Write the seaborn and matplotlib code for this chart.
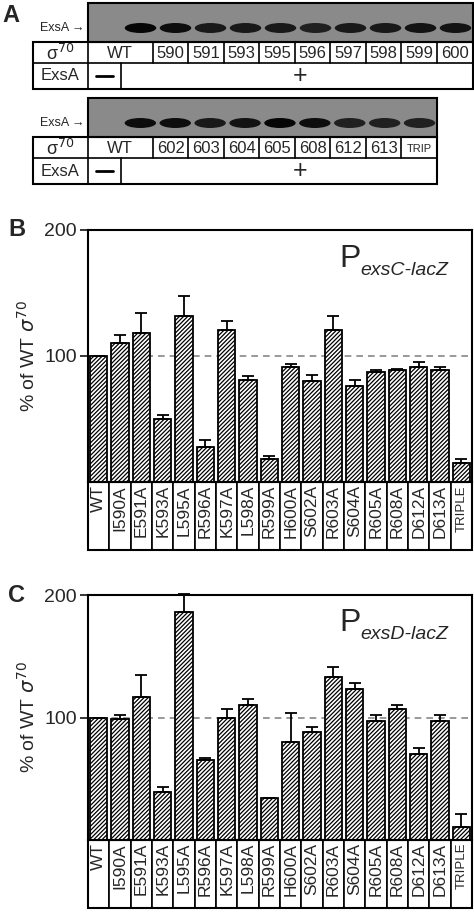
import numpy as np
import pandas as pd
import matplotlib
matplotlib.use("Agg")
import matplotlib.pyplot as plt
from matplotlib.patches import Rectangle, Ellipse
import seaborn as sns

sns.set_theme(style="white")
plt.rcParams['font.family'] = ['Liberation Sans', 'DejaVu Sans']
plt.rcParams['hatch.linewidth'] = 0.9

mutants = ["WT", "I590A", "E591A", "K593A", "L595A", "R596A", "K597A", "L598A", "R599A",
           "H600A", "S602A", "R603A", "S604A", "R605A", "R608A", "D612A", "D613A", "TRIPLE"]
exsC_vals = [100, 110, 118, 50, 132, 28, 121, 81, 18, 91, 80, 121, 76, 87, 89, 91, 89, 15]
exsC_err = [0, 7, 16, 3, 16, 5, 7, 3, 3, 3, 5, 11, 5, 2, 1, 4, 2, 3]
exsD_vals = [100, 99, 117, 39, 186, 65, 100, 110, 34, 80, 88, 133, 123, 97, 107, 70, 97, 11]
exsD_err = [0, 3, 18, 4, 15, 2, 7, 5, 0.5, 24, 4, 8, 5, 5, 3, 5, 5, 10]

blot1_labels = ["590", "591", "593", "595", "596", "597", "598", "599", "600"]
blot2_labels = ["602", "603", "604", "605", "608", "612", "613", "TRIP"]
blot1_bands = [0, 0.95, 0.9, 0.8, 0.8, 0.8, 0.75, 0.8, 0.8, 0.85, 0.85]
blot2_bands = [0, 0.9, 0.9, 0.8, 0.85, 0.95, 0.9, 0.75, 0.75, 0.75]

W, H = 474, 913
fig = plt.figure(figsize=(W / 100, H / 100), dpi=100)
fig.patch.set_facecolor("white")


def px_axes(x0, y0, x1, y1):
    return fig.add_axes([x0 / W, 1 - y1 / H, (x1 - x0) / W, (y1 - y0) / H])


# ---------------- Panel A ----------------
axA = px_axes(0, 0, W, 200)
axA.set_xlim(0, W)
axA.set_ylim(200, 0)
axA.axis("off")
axA.text(2, 16, "A", fontsize=17, fontweight="bold", va="center")


def blot(y0, x1, bands, labels):
    yb = y0 + 39
    axA.add_patch(Rectangle((88, y0), x1 - 88, 39, facecolor="#8a8a8a", edgecolor="black", lw=1.5))
    n = len(bands)
    lw_ = (x1 - 88) / n
    for i, b in enumerate(bands):
        if b > 0:
            g = 1 - b
            axA.add_patch(Ellipse((88 + lw_ * (i + 0.5), y0 + 25), lw_ * 0.9, 10,
                                  facecolor=(g * 0.5, g * 0.5, g * 0.5), edgecolor="none"))
    axA.text(85, y0 + 25, "ExsA \u2192", fontsize=9, ha="right", va="center")
    r1, r2 = yb + 21, yb + 47
    axA.add_patch(Rectangle((33, yb), x1 - 33, r2 - yb, facecolor="none", edgecolor="black", lw=1.5, zorder=3))
    axA.plot([33, x1], [r1, r1], color="black", lw=1.2)
    axA.plot([88, 88], [yb, r2], color="black", lw=1.2)
    axA.plot([153, 153], [yb, r1], color="black", lw=1.2)
    axA.plot([121, 121], [r1, r2], color="black", lw=1.2)
    cw = 35.5
    for i, lab in enumerate(labels):
        xc = 153 + cw * (i + 0.5)
        if i > 0:
            axA.plot([153 + cw * i] * 2, [yb, r1], color="black", lw=1.2)
        axA.text(xc, (yb + r1) / 2 + 1, lab, fontsize=8 if lab == "TRIP" else 12, ha="center", va="center")
    axA.text(60, (yb + r1) / 2 + 1, "\u03c3$^{70}$", fontsize=13, ha="center", va="center")
    axA.text(120, (yb + r1) / 2 + 1, "WT", fontsize=12, ha="center", va="center")
    axA.text(60, (r1 + r2) / 2, "ExsA", fontsize=12, ha="center", va="center")
    axA.plot([96, 113], [(r1 + r2) / 2] * 2, color="black", lw=2)
    axA.text(300, (r1 + r2) / 2, "+", fontsize=18, ha="center", va="center")


blot(3, 473, blot1_bands, blot1_labels)
blot(98, 437, blot2_bands, blot2_labels)


# ---------------- Panels B & C ----------------
def bar_panel(y_top, y_bot, vals, errs, letter, sub):
    ax = px_axes(88, y_top, 472, y_bot)
    df = pd.DataFrame({"mut": mutants, "val": vals})
    ax.axhline(100, color="#888888", ls=(0, (4, 3)), lw=1.2, zorder=0)
    sns.barplot(data=df, x="mut", y="val", ax=ax, color="white", edgecolor="black",
                linewidth=1.3, hatch="////////", width=0.8, zorder=2)
    for p in ax.patches:
        p.set_facecolor("white")
    x = np.arange(len(mutants))
    eb = ax.errorbar(x, vals, yerr=[np.zeros(len(errs)), errs], fmt="none", ecolor="black",
                     elinewidth=1.3, capsize=4, capthick=1.3, zorder=3)
    for art in eb.lines[1] + eb.lines[2]:
        art.set_clip_on(False)
    ax.set_xlim(-0.5, len(mutants) - 0.5)
    ax.set_ylim(0, 200)
    ax.set_yticks([100, 200])
    ax.set_yticklabels(["100", "200"], fontsize=14)
    ax.tick_params(axis="y", direction="out", length=6, width=1.3, left=True, pad=2)
    ax.set_xticks([])
    ax.set_xlabel("")
    ax.set_ylabel(r"% of WT $\sigma^{70}$", fontsize=14, labelpad=4)
    for s in ax.spines.values():
        s.set_visible(True)
        s.set_color("black")
        s.set_linewidth(1.5)
    ax.text(-80 / 384, 1.0, letter, transform=ax.transAxes, fontsize=17, fontweight="bold",
            va="center", ha="left")
    ax.text(0.655, 0.855, "P", transform=ax.transAxes, fontsize=23, ha="left", va="baseline")
    ax.text(0.71, 0.82, sub, transform=ax.transAxes, fontsize=14, style="italic",
            ha="left", va="baseline")
    # label table below
    hfrac = 68 / (y_bot - y_top)
    tr = ax.get_xaxis_transform()
    for i, m in enumerate(mutants):
        ax.add_patch(Rectangle((i - 0.5, -hfrac), 1, hfrac, transform=tr, facecolor="white",
                               edgecolor="black", lw=1.2, clip_on=False))
        ax.text(i, -0.012, m, transform=tr, rotation=90, ha="center", va="top",
                fontsize=9.5 if m == "TRIPLE" else 12.5, clip_on=False)
    ax.add_patch(Rectangle((-0.5, -hfrac), len(mutants), hfrac, transform=tr, facecolor="none",
                           edgecolor="black", lw=1.5, clip_on=False))
    return ax


bar_panel(230, 482, exsC_vals, exsC_err, "B", "exsC-lacZ")
bar_panel(595, 840, exsD_vals, exsD_err, "C", "exsD-lacZ")

fig.savefig("out.png", dpi=100, facecolor="white")
